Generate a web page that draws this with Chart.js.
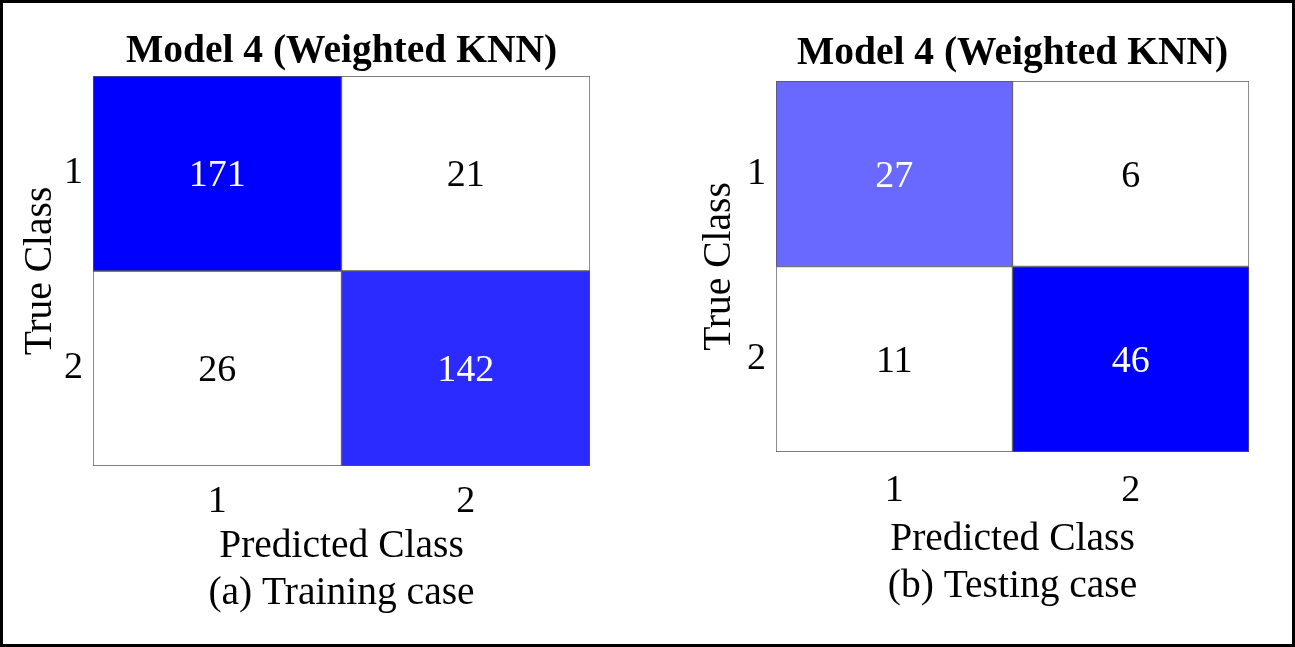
<!DOCTYPE html>
<html>
<head>
<meta charset="utf-8">
<script src="https://cdn.jsdelivr.net/npm/chart.js@4.4.0/dist/chart.umd.min.js"></script>
<style>
    html, body { margin: 0; padding: 0; background: #fff; }
    #page { position: relative; width: 1295px; height: 647px; overflow: hidden; }
    .box { position: absolute; top: 0; height: 647px; }
    #frame { position: absolute; left: 0; top: 0; width: 1295px; height: 647px;
             box-sizing: border-box; border: 3px solid #000; pointer-events: none; }
</style>
</head>
<body>
<div id="page">
    <div class="box" style="left:0; width:650px;"><canvas id="trainChart"></canvas></div>
    <div class="box" style="left:650px; width:645px;"><canvas id="testChart"></canvas></div>
    <div id="frame"></div>
</div>
<script>
// Clases y matrices de confusión (filas = clase real, columnas = clase predicha)
const classes = ['1', '2'];
const trainRow1 = [171, 21];
const trainRow2 = [26, 142];
const testRow1 = [27, 6];
const testRow2 = [11, 46];

const chartTitle = 'Model 4 (Weighted KNN)';
const xTitle = 'Predicted Class';
const yTitle = 'True Class';
const serif = "'Liberation Serif', 'Times New Roman', serif";

// Color de la celda: diagonal en azul según su valor, el resto en blanco
function cellColor(rows, r, c) {
    if (r !== c) return '#ffffff';
    const maxDiag = Math.max(...rows.map((row, i) => row[i]));
    const k = Math.round(255 * (1 - rows[r][c] / maxDiag));
    return `rgb(${k},${k},255)`;
}

// Texto de cada celda en su centro
const cellText = {
    id: 'cellText',
    afterDatasetsDraw(chart) {
        const ctx = chart.ctx;
        const rows = chart.options.plugins.cellText.rows;
        ctx.save();
        ctx.font = `38px ${serif}`;
        ctx.textAlign = 'center';
        ctx.textBaseline = 'middle';
        chart.data.datasets.forEach((ds, r) => {
            chart.getDatasetMeta(r).data.forEach((bar, c) => {
                const p = bar.getCenterPoint();
                ctx.fillStyle = r === c ? '#ffffff' : '#000000';
                ctx.fillText(String(rows[r][c]), p.x, p.y + 3);
            });
        });
        ctx.restore();
    }
};

function makeMatrix(canvasId, rows, subtitle, lay) {
    const ctx = document.getElementById(canvasId).getContext('2d');
    const datasets = rows.map((row, r) => ({
        data: row.map(() => [r, r + 1]),
        backgroundColor: row.map((v, c) => cellColor(rows, r, c)),
        borderColor: '#555555',
        borderWidth: 1,
        borderSkipped: false,
        barPercentage: 1,
        categoryPercentage: 1,
        grouped: false
    }));
    return new Chart(ctx, {
        type: 'bar',
        data: { labels: classes, datasets: datasets },
        options: {
            responsive: true,
            maintainAspectRatio: false,
            animation: false,
            layout: { padding: { left: 0, right: lay.right, top: 0, bottom: 0 } },
            plugins: {
                legend: { display: false },
                tooltip: { enabled: false },
                title: {
                    display: true,
                    fullSize: false,
                    text: chartTitle,
                    color: '#000',
                    font: { family: serif, size: 39.5, weight: 'bold' },
                    padding: { top: lay.titleTop, bottom: lay.titleBottom }
                },
                subtitle: {
                    display: true,
                    fullSize: false,
                    position: 'bottom',
                    text: subtitle,
                    color: '#000',
                    font: { family: serif, size: 39.5 },
                    padding: { top: lay.subTop, bottom: lay.subBottom }
                },
                cellText: { rows: rows }
            },
            scales: {
                x: {
                    type: 'category',
                    grid: { display: false, drawTicks: false },
                    border: { display: false },
                    ticks: { color: '#000', padding: lay.xPad, font: { family: serif, size: 38 } },
                    title: {
                        display: true, text: xTitle, color: '#000',
                        font: { family: serif, size: 39.5 },
                        padding: { top: 0, bottom: 0 }
                    },
                    afterFit: (s) => { s.height = lay.xHeight; }
                },
                y: {
                    type: 'linear',
                    min: 0,
                    max: 2,
                    reverse: true,
                    grid: { display: false, drawTicks: false },
                    border: { display: false },
                    afterBuildTicks: (s) => { s.ticks = classes.map((c, i) => ({ value: i + 0.5 })); },
                    ticks: {
                        color: '#000', padding: 10,
                        font: { family: serif, size: 38 },
                        callback: (v) => classes[Math.floor(v)]
                    },
                    title: {
                        display: true, text: yTitle, color: '#000',
                        font: { family: serif, size: 39.5 },
                        padding: { top: lay.yTitlePad, bottom: 0 }
                    },
                    afterFit: (s) => { s.width = lay.yWidth; }
                }
            }
        },
        plugins: [cellText]
    });
}

window.onload = function () {
    makeMatrix('trainChart', [trainRow1, trainRow2], '(a) Training case', {
        right: 60, yWidth: 93, yTitlePad: 17,
        titleTop: 28, titleBottom: 0.6,
        xPad: 13, xHeight: 104,
        subTop: 0, subBottom: 29.6
    });
    makeMatrix('testChart', [testRow1, testRow2], '(b) Testing case', {
        right: 46, yWidth: 126, yTitlePad: 46,
        titleTop: 30.5, titleBottom: 3.1,
        xPad: 16, xHeight: 111,
        subTop: 0, subBottom: 36.6
    });
};
</script>
</body>
</html>
